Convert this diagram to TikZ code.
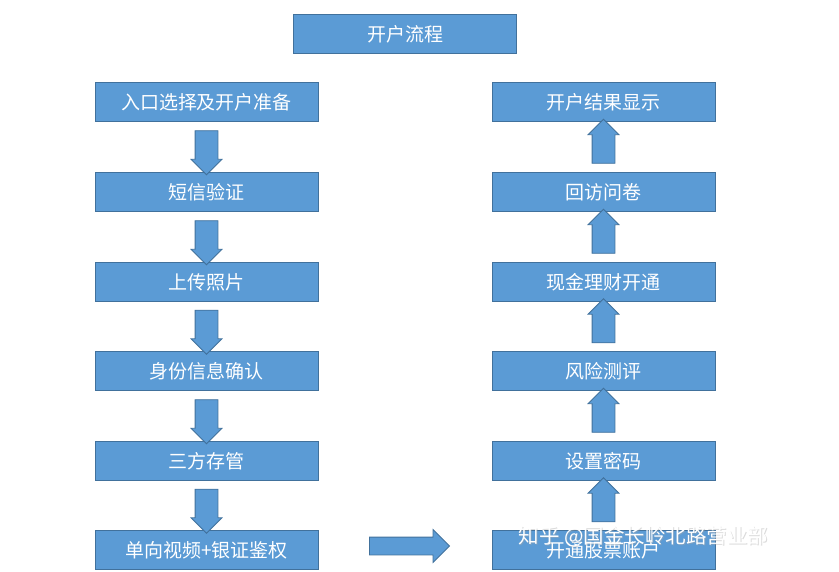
\documentclass[tikz,border=0pt]{standalone}
\usepackage{fontspec}
\newfontfamily\cjk{Noto Sans CJK SC}
\usetikzlibrary{shapes.arrows,calc}
\definecolor{bfill}{HTML}{5B9BD5}
\definecolor{bdraw}{HTML}{41719C}
\begin{document}
\begin{tikzpicture}[x=1pt,y=-1pt,
  box/.style={draw=bdraw,fill=bfill,line width=0.8pt,minimum width=223pt,minimum height=39pt,text=white,font=\cjk\fontsize{19}{21}\selectfont,inner sep=0pt},
  barrow/.style={single arrow,draw=bdraw,fill=bfill,line width=0.8pt,single arrow head extend=4pt,single arrow head indent=0pt,inner xsep=0pt,inner ysep=11pt,minimum width=0pt},
  ]
\useasboundingbox (0,0) rectangle (839,571);
\node[box] (t) at (405,34) {开户流程};
\foreach \n/\y/\s in {l1/102/入口选择及开户准备,l2/192/短信验证,l3/282/上传照片,l4/371/身份信息确认,l5/461/三方存管,l6/550/单向视频+银证鉴权}
  \node[box] (\n) at (206.5,\y) {\s};
\foreach \n/\y/\s in {r1/102/开户结果显示,r2/192/回访问卷,r3/282/现金理财开通,r4/371/风险测评,r5/461/设置密码,r6/550/开通股票账户}
  \node[box] (\n) at (603.5,\y) {\s};
\foreach \a/\b in {l1/l2,l2/l3,l3/l4,l4/l5,l5/l6}
  \node[barrow,rotate=-90,minimum height=44pt] (d\a) at ($(\a.south)!0.5!(\b.north)$) {};
\foreach \a/\b in {r6/r5,r5/r4,r4/r3,r3/r2,r2/r1}
  \node[barrow,rotate=90,minimum height=44pt] (u\a) at ($(\a.north)!0.5!(\b.south)$) {};
\node[barrow,minimum height=80pt,inner ysep=8.5pt,single arrow head extend=7.5pt] (h) at (405,546) {};
\node[text=gray!70,opacity=0.4,font=\cjk\fontsize{20.5}{22}\selectfont,anchor=west] (wm2) at (516,538) {知乎 @国金长岭北路营业部};
\node[text=white,font=\cjk\fontsize{20.5}{22}\selectfont,anchor=west] (wm) at (515,537) {知乎 @国金长岭北路营业部};
\end{tikzpicture}
\end{document}
